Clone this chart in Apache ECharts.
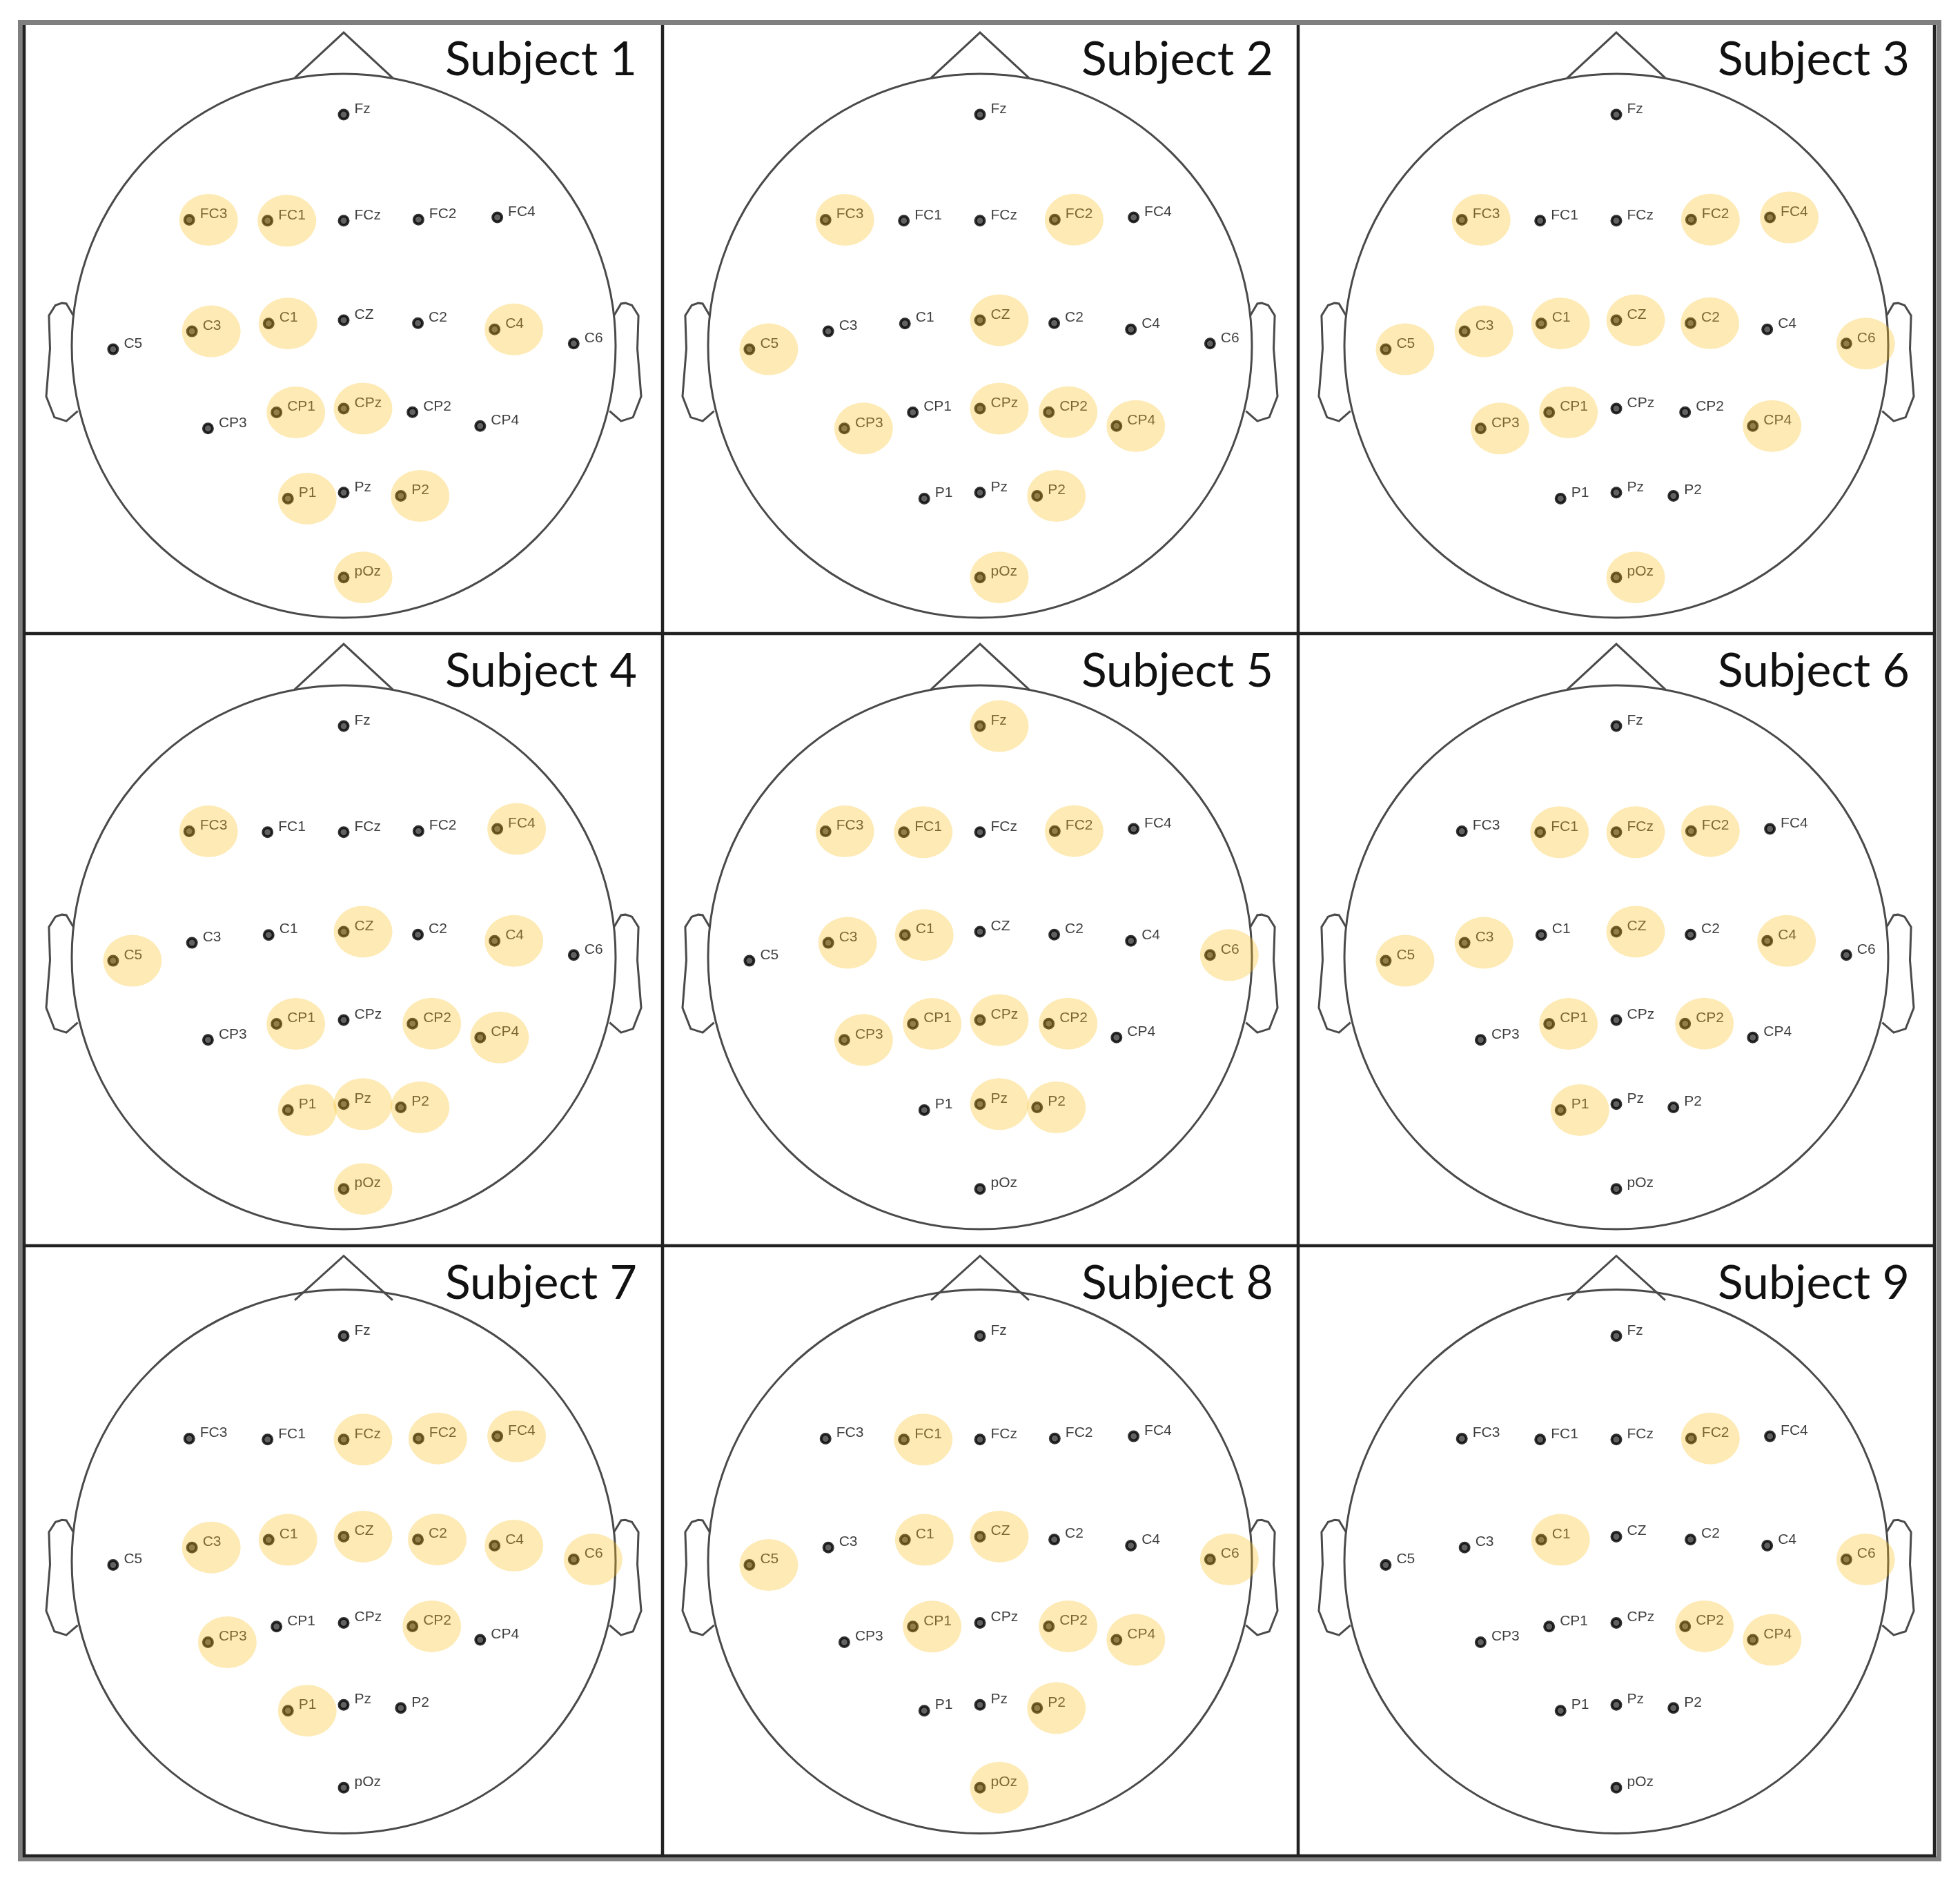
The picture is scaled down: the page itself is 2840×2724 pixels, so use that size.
<!DOCTYPE html>
<html><head><meta charset="utf-8">
<script src="https://cdn.jsdelivr.net/npm/echarts@6/dist/echarts.min.js"></script>
<style>html,body{margin:0;padding:0;background:#fff}#c{width:2840px;height:2724px}</style>
</head><body><div id="c"></div>
<script>
// ---- data ----
const electrodeNames = ['Fz','FC3','FC1','FCz','FC2','FC4','C5','C3','C1','CZ','C2','C4','C6','CP3','CP1','CPz','CP2','CP4','P1','Pz','P2','pOz'];
const electrodeX = [0, -0.568, -0.28, 0, 0.275, 0.565, -0.848, -0.558, -0.276, 0, 0.273, 0.555, 0.846, -0.499, -0.247, 0, 0.253, 0.502, -0.205, 0, 0.21, 0];
const electrodeY = [0.85, 0.463, 0.46, 0.46, 0.464, 0.472, -0.013, 0.053, 0.082, 0.094, 0.083, 0.06, 0.008, -0.304, -0.245, -0.231, -0.244, -0.295, -0.562, -0.54, -0.552, -0.852];
const subjectTitles = ['Subject 1','Subject 2','Subject 3','Subject 4','Subject 5','Subject 6','Subject 7','Subject 8','Subject 9'];
const activeSubject1 = ['FC3','FC1','C3','C1','C4','CP1','CPz','P1','P2','pOz'];
const activeSubject2 = ['FC3','FC2','C5','CZ','CP3','CPz','CP2','CP4','P2','pOz'];
const activeSubject3 = ['FC3','FC2','FC4','C5','C3','C1','CZ','C2','C6','CP3','CP1','CP4','pOz'];
const activeSubject4 = ['FC3','FC4','C5','CZ','C4','CP1','CP2','CP4','P1','Pz','P2','pOz'];
const activeSubject5 = ['Fz','FC3','FC1','FC2','C3','C1','C6','CP3','CP1','CPz','CP2','Pz','P2'];
const activeSubject6 = ['FC1','FCz','FC2','C5','C3','CZ','C4','CP1','CP2','P1'];
const activeSubject7 = ['FCz','FC2','FC4','C3','C1','CZ','C2','C4','C6','CP3','CP2','P1'];
const activeSubject8 = ['FC1','C5','C1','CZ','C6','CP1','CP2','CP4','P2','pOz'];
const activeSubject9 = ['FC2','C1','C6','CP2','CP4'];
const activeBySubject = [activeSubject1,activeSubject2,activeSubject3,activeSubject4,activeSubject5,activeSubject6,activeSubject7,activeSubject8,activeSubject9];

// ---- layout / style ----
const R = 394;
const colCx = [498, 1420, 2342];
const rowCy = [501, 1387, 2274];
const span = 1.2;
const headColor = '#4a4a4a';
const earX = [0.994, 1.02, 1.036, 1.06, 1.084, 1.08, 1.094, 1.064, 1.02, 0.978];
const earY = [0.111, 0.155, 0.157, 0.149, 0.111, -0.011, -0.186, -0.263, -0.277, -0.240];

const chart = echarts.init(document.getElementById('c'));
const grid = [], xAxis = [], yAxis = [], series = [], graphic = [];

function headRender(params, api) {
  const c = api.coord([0, 0]);
  const s = api.size([1, 1]);
  const P = (x, y) => [c[0] + x * s[0], c[1] - y * s[1]];
  const st = {fill: 'none', stroke: headColor, lineWidth: 3};
  const earR = earX.map((x, i) => P(x, earY[i]));
  const earL = earX.map((x, i) => P(-x, earY[i]));
  return {type: 'group', children: [
    {type: 'circle', shape: {cx: c[0], cy: c[1], r: s[0]}, style: st},
    {type: 'polyline', shape: {points: [P(-0.18, 0.985), P(0, 1.152), P(0.18, 0.985)]}, style: st},
    {type: 'polyline', shape: {points: earR}, style: st},
    {type: 'polyline', shape: {points: earL}, style: st}
  ]};
}

const allPoints = electrodeNames.map((n, i) => ({name: n, value: [electrodeX[i], electrodeY[i]]}));

for (let k = 0; k < 9; k++) {
  const cx = colCx[k % 3], cy = rowCy[Math.floor(k / 3)];
  grid.push({left: cx - span * R, top: cy - span * R, width: 2 * span * R, height: 2 * span * R});
  xAxis.push({type: 'value', gridIndex: k, min: -span, max: span, show: false});
  yAxis.push({type: 'value', gridIndex: k, min: -span, max: span, show: false});
  series.push({type: 'custom', xAxisIndex: k, yAxisIndex: k, data: [[0, 0]], renderItem: headRender, silent: true, z: 1, clip: false});
  series.push({
    type: 'scatter', xAxisIndex: k, yAxisIndex: k, z: 2, silent: true, clip: false,
    data: allPoints, symbol: 'circle', symbolSize: 13,
    itemStyle: {color: '#3a3a3a', borderColor: '#000', borderWidth: 4},
    label: {show: true, position: 'right', distance: 7, offset: [0, -8], formatter: '{b}',
      fontFamily: 'Liberation Sans', fontSize: 21, color: '#0d0d0d'}
  });
  const act = activeBySubject[k];
  series.push({
    type: 'scatter', xAxisIndex: k, yAxisIndex: k, z: 5, silent: true, clip: false,
    data: allPoints.filter(p => act.includes(p.name)),
    symbol: 'circle', symbolSize: [85, 75], symbolOffset: [28, 0],
    itemStyle: {color: 'rgba(250,190,25,0.40)'}
  });
  graphic.push({type: 'text', x: cx + 425, y: cy - 414, z: 10,
    style: {text: subjectTitles[k], font: '68px Lato', fill: '#111', align: 'right', verticalAlign: 'middle'}});
}

// frame and panel lines
graphic.push({type: 'rect', shape: {x: 29.5, y: 32.5, width: 2780, height: 2661}, style: {fill: 'none', stroke: '#7f7f7f', lineWidth: 7}, z: 20});
const vLines = [35, 960, 1881, 2803];
const hLines = [918, 1805, 2689];
vLines.forEach(x => graphic.push({type: 'line', shape: {x1: x, y1: 36, x2: x, y2: 2691}, style: {stroke: '#222', lineWidth: 4.5}, z: 21}));
hLines.forEach(y => graphic.push({type: 'line', shape: {x1: 33, y1: y, x2: 2805, y2: y}, style: {stroke: '#222', lineWidth: 4.5}, z: 21}));

chart.setOption({backgroundColor: '#fff', animation: false, grid, xAxis, yAxis, series, graphic});
</script>
</body></html>
